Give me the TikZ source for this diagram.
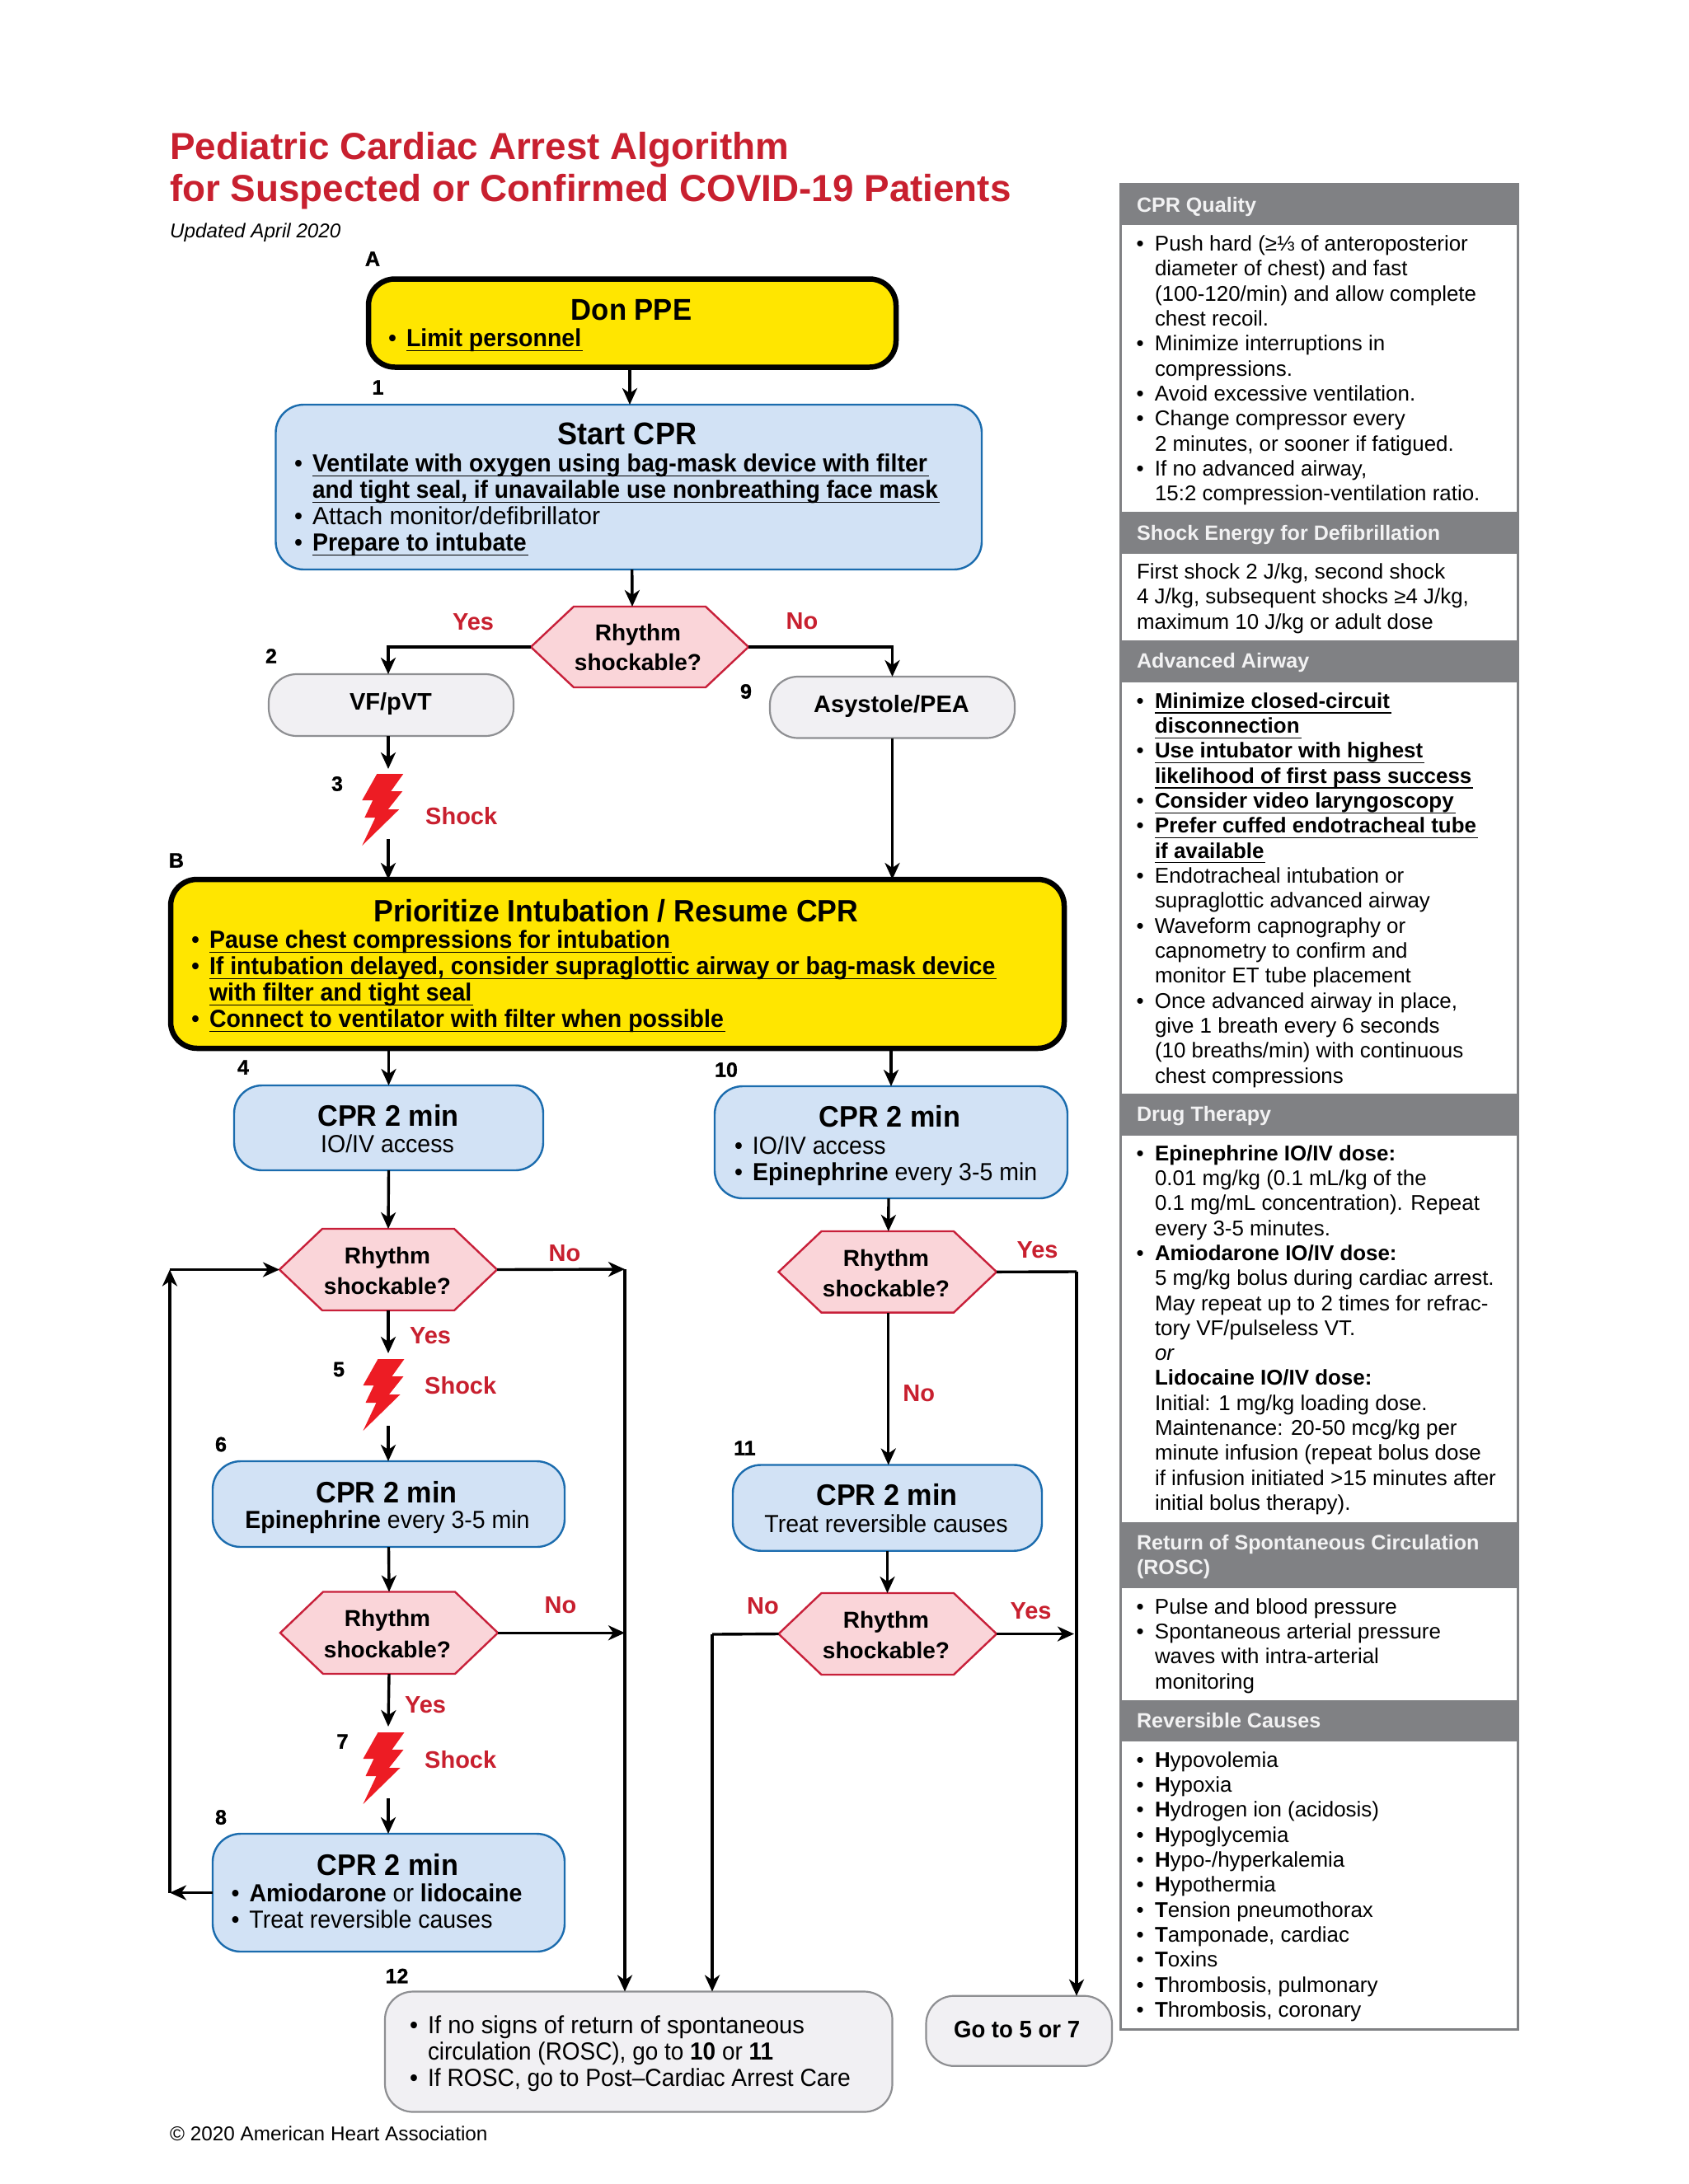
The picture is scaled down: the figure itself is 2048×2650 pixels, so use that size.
\documentclass[tikz,border=0pt]{standalone}
\usepackage{fontspec}
\usepackage{graphicx}
\setmainfont{Liberation Sans}
\newfontfamily\chartf{Liberation Sans}[FakeStretch=0.95]
\newfontface\numf{Liberation Sans Bold}[FakeBold=1.2]
\usetikzlibrary{arrows.meta,calc}
\definecolor{yel}{HTML}{FFE600}
\definecolor{bluefill}{HTML}{D2E2F5}
\definecolor{bluelin}{HTML}{1B6CAE}
\definecolor{greyfill}{HTML}{F1F0F3}
\definecolor{greylin}{HTML}{8E8F92}
\definecolor{pinkfill}{HTML}{FAD5D9}
\definecolor{pinklin}{HTML}{C8203A}
\definecolor{ahared}{HTML}{C8202F}
\definecolor{boltred}{HTML}{ED1C24}
\definecolor{hdrgrey}{HTML}{808184}
\definecolor{hdrtext}{HTML}{F2F2F3}
\newcommand\FS[2]{\fontsize{#1}{#2}\selectfont}
\newdimen\dimA \newdimen\dimB \newdimen\dimW \newdimen\dimH \newdimen\BulInd
\BulInd=22pt
\newsavebox\ulbox
\newcommand\UB[1]{\sbox\ulbox{\bfseries #1}\rlap{\rule[-6.2pt]{\dimexpr\wd\ulbox+2pt\relax}{1.3pt}}\usebox\ulbox}
\newcommand\Bu[1]{\hbox{\hbox to\BulInd{•\hss}#1}}
\newcommand\Ct[1]{\hbox{\kern\BulInd #1}}
\newcommand\Pl[1]{\hbox{#1}}
\newcommand\Block[1]{\vtop{\lineskiplimit=-100pt #1}}
\newcommand\At[3]{\pgfmathsetlength\dimA{#1-\BXL}\pgfmathsetlength\dimB{#2-\BYT}\nointerlineskip\vbox to 0pt{\kern\dimB\hbox to 0pt{\kern\dimA\smash{#3}\hss}\vss}\nointerlineskip}
\newcommand\Mid[1]{\hbox to 0pt{\hss #1\hss}}
% name, style, left, top, right, bottom, body
\newcommand\TB[7]{%
  \pgfmathsetmacro\BXL{#3}\pgfmathsetmacro\BYT{#4}%
  \pgfmathsetlength\dimW{#5-#3}\pgfmathsetlength\dimH{#6-#4}%
  \node[#2,inner sep=0pt,outer sep=0pt,anchor=north west,minimum width=\dimW,minimum height=\dimH] (#1) at (#3,#4)
   {\hbox to \dimW{\vbox to \dimH{#7\vss}\hss}};}
% name, left, top, right, bottom, text centre, baseline 1, baseline 2
\newcommand\Hex[8]{%
  \filldraw[hexline] (#2,{(#3+#5)/2}) -- ({#2+52},#3) -- ({#4-52},#3) -- (#4,{(#3+#5)/2}) -- ({#4-52},#5) -- ({#2+52},#5) -- cycle;
  \TB{#1}{}{#2}{#3}{#4}{#5}{\FS{28}{36}\bfseries\At{#6}{#7}{\Mid{Rhythm}}\At{#6}{#8}{\Mid{shockable?}}}}
\newcommand\Bolt[2]{%
  \fill[boltred,shift={(#1,#2)}] (18,0) -- (50,0) -- (35,21) -- (49,21) -- (31.5,43) -- (45,43) -- (0,87) -- (16,53) -- (3,53) -- (13,32) -- (0,32) -- cycle;}
\tikzset{
  hexline/.style={draw=pinklin,fill=pinkfill,line width=2.4pt,line join=miter},
  yelbox/.style={draw=black,fill=yel,line width=6.5pt,rounded corners=32pt},
  blubox/.style={draw=bluelin,fill=bluefill,line width=2.4pt,rounded corners=34pt},
  gribox/.style={draw=greylin,fill=greyfill,line width=2.2pt,rounded corners=34pt},
  arr/.style={draw=black,line width=3.4pt,line join=miter,-{Stealth[length=20pt,width=18pt,inset=6pt]}},
  lin/.style={draw=black,line width=3.4pt,line join=miter},
  numlab/.style={font=\numf\FS{25}{25},inner sep=0pt},
  redlab/.style={font=\FS{29}{29}\bfseries,text=ahared,inner sep=0pt},
  shocklab/.style={font=\FS{29}{29}\bfseries,text=ahared,inner sep=0pt,anchor=west},
  hdr/.style={fill=hdrgrey,text=hdrtext},
  panelframe/.style={draw=hdrgrey,fill=white,line width=3pt,inner sep=0pt,outer sep=0pt,anchor=north west},
}
\begin{document}
\begin{tikzpicture}[x=1pt,y=-1pt]
\path[use as bounding box,fill=white] (0,0) rectangle (2048,2650);

% Title
\node[anchor=base west,inner sep=0pt,text=ahared,font=\FS{45.8}{51}\bfseries] (title1) at (206,193) {Pediatric Cardiac Arrest Algorithm};
\node[anchor=base west,inner sep=0pt,text=ahared,font=\FS{45.8}{51}\bfseries] (title2) at (206,244) {for Suspected or Confirmed COVID-19 Patients};
\node[anchor=base west,inner sep=0pt,font=\FS{24.2}{28}\itshape] (updated) at (206,288) {Updated April 2020};
\node[anchor=base west,inner sep=0pt,font=\FS{24.3}{28}] (copyright) at (206,2597) {© 2020 American Heart Association};

% Flow boxes
\TB{don}{yelbox}{447}{338.5}{1087}{445.5}{\chartf%
  \At{766}{388}{\FS{36.5}{40}\bfseries\Mid{Don PPE}}
  \At{471}{420}{\FS{30}{32}\Block{\Bu{\UB{Limit personnel}}}}}
\TB{start}{blubox}{334.5}{491}{1191}{691}{\chartf%
  \At{761}{539.5}{\FS{38}{40}\bfseries\Mid{Start CPR}}
  \At{357}{572}{\FS{30}{32}\Block{
    \Bu{\UB{Ventilate with oxygen using bag-mask device with filter}}
    \Ct{\scalebox{0.982}[1]{\UB{and tight seal, if unavailable use nonbreathing face mask}}}
    \Bu{\scalebox{1.055}[1]{Attach monitor/defibrillator}}
    \Bu{\UB{Prepare to intubate}}}}}
\Hex{hexA}{644}{736}{908}{834}{774}{777}{813.5}
\TB{vf}{gribox}{326}{818}{623}{893}{\At{474}{861.5}{\FS{29}{32}\bfseries\Mid{VF/pVT}}}
\TB{asys}{gribox}{934}{821}{1231}{895.5}{\At{1081.5}{864}{\FS{29}{32}\bfseries\Mid{Asystole/PEA}}}
\Bolt{439.3}{939}
\coordinate (bolt3in) at (471,933);
\coordinate (bolt3out) at (471,1018);
\node[shocklab] (shock3) at (516,990) {Shock};
\TB{prior}{yelbox}{207}{1067}{1291}{1272}{\chartf%
  \At{747.5}{1118}{\FS{37.5}{40}\bfseries\Mid{Prioritize Intubation / Resume CPR}}
  \At{232}{1150}{\FS{30}{32}\Block{
    \Bu{\UB{Pause chest compressions for intubation}}
    \Bu{\UB{If intubation delayed, consider supraglottic airway or bag-mask device}}
    \Ct{\UB{with filter and tight seal}}
    \Bu{\UB{Connect to ventilator with filter when possible}}}}}
\TB{cprfour}{blubox}{284}{1317}{659}{1420}{\chartf%
  \At{471}{1366}{\FS{36}{40}\bfseries\Mid{CPR 2 min}}
  \At{470}{1398.6}{\FS{30}{32}\Mid{IO/IV access}}}
\TB{cprten}{blubox}{867}{1318}{1295}{1454}{\chartf%
  \At{1079.5}{1367}{\FS{36}{40}\bfseries\Mid{CPR 2 min}}
  \At{891}{1400}{\FS{30}{32}\Block{
    \Bu{IO/IV access}
    \Bu{\textbf{Epinephrine} every 3-5 min}}}}
\Hex{hexLa}{339}{1491}{603}{1590}{470}{1533}{1570}
\Hex{hexRa}{944.5}{1494}{1209}{1592.6}{1075}{1536}{1573}
\Bolt{440.5}{1649}
\coordinate (bolt5in) at (471,1642);
\coordinate (bolt5out) at (471,1730);
\node[shocklab] (shock5) at (515,1681) {Shock};
\TB{cprsix}{blubox}{258}{1773}{685}{1877}{\chartf%
  \At{469}{1823}{\FS{36}{40}\bfseries\Mid{CPR 2 min}}
  \At{470}{1854.5}{\FS{30}{32}\Mid{\textbf{Epinephrine} every 3-5 min}}}
\TB{cpreleven}{blubox}{889}{1777.5}{1264}{1881.7}{\chartf%
  \At{1076}{1826.6}{\FS{36}{40}\bfseries\Mid{CPR 2 min}}
  \At{1075}{1859}{\FS{30}{32}\Mid{Treat reversible causes}}}
\Hex{hexLb}{340}{1931.5}{604}{2031}{470}{1973.4}{2011}
\Hex{hexRb}{944.5}{1933}{1209}{2032}{1075}{1975}{2012}
\Bolt{440.5}{2102}
\coordinate (bolt7in) at (471,2095);
\coordinate (bolt7out) at (471,2182);
\node[shocklab] (shock7) at (515,2135) {Shock};
\TB{cpreight}{blubox}{258}{2225}{685}{2368}{\chartf%
  \At{470.5}{2275}{\FS{36}{40}\bfseries\Mid{CPR 2 min}}
  \At{280.5}{2307}{\FS{30}{32}\Block{
    \Bu{\textbf{Amiodarone} or \textbf{lidocaine}}
    \Bu{Treat reversible causes}}}}
\TB{final}{gribox}{467}{2416.5}{1082.5}{2562.5}{\chartf%
  \At{497}{2467}{\FS{30}{32}\Block{
    \Bu{\scalebox{1.023}[1]{If no signs of return of spontaneous}}
    \Ct{\scalebox{0.98}[1]{circulation (ROSC), go to \textbf{10} or \textbf{11}}}
    \Bu{\scalebox{0.99}[1]{If ROSC, go to Post–Cardiac Arrest Care}}}}}
\TB{goto}{gribox}{1123.5}{2421.7}{1349}{2506.8}{\chartf\At{1233.6}{2472}{\FS{29}{32}\bfseries\Mid{Go to 5 or 7}}}

% Connector helper points
\coordinate (busL) at (758,1540);
\coordinate (busM) at (864,1983);
\coordinate (busR) at (1306,1543);
\coordinate (loopB) at (206,2296.5);

% Connectors
\draw[arr] ([xshift=-3pt]don.south) -- ([xshift=-3pt]don.south |- start.north);
\draw[arr] ([xshift=4pt]start.south) -- ([xshift=-9pt]hexA.north);
\draw[arr] (hexA.west) -| ([xshift=-3.5pt]vf.north);
\draw[arr] (hexA.east) -| (asys.north);
\draw[arr] ([xshift=-3.5pt]vf.south) -- (bolt3in);
\draw[arr] (bolt3out) -- (bolt3out |- prior.north);
\draw[arr] (asys.south) -- (asys.south |- prior.north);
\draw[arr] (prior.south -| cprfour.north) -- (cprfour.north);
\draw[arr] (prior.south -| cprten.north) -- (cprten.north);
\draw[arr] (cprfour.south) -- (hexLa.north);
\draw[arr] ([xshift=-3pt]cprten.south) -- ([xshift=1pt]hexRa.north);
\draw[arr] (hexLa.south) -- (bolt5in);
\draw[arr] (bolt5out) -- (bolt5out |- cprsix.north);
\draw[arr] (cprsix.south) -- (hexLb.north);
\draw[arr] (hexLb.south) -- (bolt7in);
\draw[arr] (bolt7out) -- (bolt7out |- cpreight.north);
\draw[arr] ([xshift=1pt]hexRa.south) -- ([xshift=1pt]hexRa.south |- cpreleven.north);
\draw[arr] (cpreleven.south) -- (cpreleven.south |- hexRb.north);
\draw[arr] (hexLa.east) -- (busL);
\draw[arr] (busL) -- (busL |- final.north);
\draw[arr] (hexLb.east) -- (busL |- hexLb.east);
\draw[lin] (hexRb.west) -- (busM);
\draw[arr] (busM) -- (busM |- final.north);
\draw[lin] (hexRa.east) -- (busR);
\draw[arr] (busR) -- (busR |- goto.north);
\draw[arr] (hexRb.east) -- ([xshift=-3pt]busR |- hexRb.east);
\draw[arr] (cpreight.west) -- (loopB);
\draw[arr] (loopB) -- (loopB |- hexLa.west);
\draw[arr] (loopB |- hexLa.west) -- (hexLa.west);

% Labels
\node[redlab] (yesA) at (574,755) {Yes};
\node[redlab] (noA) at (973,754) {No};
\node[redlab] (noLa) at (685,1521) {No};
\node[redlab] (yesLa) at (522,1621) {Yes};
\node[redlab] (noLb) at (680,1948) {No};
\node[redlab] (yesLb) at (516,2069) {Yes};
\node[redlab] (yesRa) at (1258.5,1517) {Yes};
\node[redlab] (noRa) at (1114.7,1691) {No};
\node[redlab] (noRb) at (925.4,1949) {No};
\node[redlab] (yesRb) at (1250.5,1955) {Yes};
\node[numlab] (nA) at (452,314) {A};
\node[numlab] (n1) at (458.5,470) {1};
\node[numlab] (n2) at (329,796) {2};
\node[numlab] (n3) at (409,951) {3};
\node[numlab] (nB) at (214,1044) {B};
\node[numlab] (n4) at (295,1295) {4};
\node[numlab] (n5) at (411,1661.6) {5};
\node[numlab] (n6) at (268,1752.5) {6};
\node[numlab] (n7) at (415.5,2113) {7};
\node[numlab] (n8) at (268,2205) {8};
\node[numlab] (n9) at (905,839) {9};
\node[numlab] (n10) at (881,1298) {10};
\node[numlab] (n11) at (903.4,1757) {11};
\node[numlab] (n12) at (481.5,2397.5) {12};

% Side panel
\node[panelframe,minimum width=482.5pt,minimum height=2239pt] (panel) at (1359,223) {};
\TB{hone}{hdr}{1358}{222}{1842}{273}{\At{1379}{257}{\FS{25.1}{30}\bfseries\Pl{CPR Quality}}}
\TB{bone}{}{1360}{273}{1840}{621}{%
  \At{1378.5}{304.5}{\FS{25.9}{30.33}\BulInd=22.5pt\Block{
    \Bu{Push hard (≥⅓ of anteroposterior}
    \Ct{diameter of chest) and fast}
    \Ct{(100-120/min) and allow complete}
    \Ct{chest recoil.}
    \Bu{Minimize interruptions in}
    \Ct{compressions.}
    \Bu{Avoid excessive ventilation.}
    \Bu{Change compressor every}
    \Ct{2 minutes, or sooner if fatigued.}
    \Bu{If no advanced airway,}
    \Ct{15:2 compression-ventilation ratio.}}}}
\TB{htwo}{hdr}{1358}{621}{1842}{671.5}{\At{1379}{655}{\FS{25.1}{30}\bfseries\Pl{Shock Energy for Defibrillation}}}
\TB{btwo}{}{1360}{671.5}{1840}{777}{%
  \At{1379}{702.5}{\FS{25.9}{30.33}\Block{
    \Pl{First shock 2 J/kg, second shock}
    \Pl{4 J/kg, subsequent shocks ≥4 J/kg,}
    \Pl{maximum 10 J/kg or adult dose}}}}
\TB{hthree}{hdr}{1358}{777}{1842}{828}{\At{1379}{810}{\FS{25.1}{30}\bfseries\Pl{Advanced Airway}}}
\TB{bthree}{}{1360}{828}{1840}{1327}{%
  \At{1378.5}{859.3}{\FS{25.9}{30.33}\BulInd=22.5pt\Block{
    \Bu{\UB{Minimize closed-circuit}}
    \Ct{\UB{disconnection}}
    \Bu{\UB{Use intubator with highest}}
    \Ct{\UB{likelihood of first pass success}}
    \Bu{\UB{Consider video laryngoscopy}}
    \Bu{\UB{Prefer cuffed endotracheal tube}}
    \Ct{\UB{if available}}
    \Bu{Endotracheal intubation or}
    \Ct{supraglottic advanced airway}
    \Bu{Waveform capnography or}
    \Ct{capnometry to confirm and}
    \Ct{monitor ET tube placement}
    \Bu{Once advanced airway in place,}
    \Ct{give 1 breath every 6 seconds}
    \Ct{(10 breaths/min) with continuous}
    \Ct{chest compressions}}}}
\TB{hfour}{hdr}{1358}{1327}{1842}{1378}{\At{1379}{1360}{\FS{25.1}{30}\bfseries\Pl{Drug Therapy}}}
\TB{bfour}{}{1360}{1378}{1840}{1847}{%
  \At{1378.5}{1408}{\FS{25.9}{30.33}\BulInd=22.5pt\Block{
    \Bu{\textbf{Epinephrine IO/IV dose:}}
    \Ct{0.01 mg/kg (0.1 mL/kg of the}
    \Ct{0.1 mg/mL concentration). Repeat}
    \Ct{every 3-5 minutes.}
    \Bu{\textbf{Amiodarone IO/IV dose:}}
    \Ct{5 mg/kg bolus during cardiac arrest.}
    \Ct{May repeat up to 2 times for refrac-}
    \Ct{tory VF/pulseless VT.}
    \Ct{\textit{or}}
    \Ct{\textbf{Lidocaine IO/IV dose:}}
    \Ct{Initial: 1 mg/kg loading dose.}
    \Ct{Maintenance: 20-50 mcg/kg per}
    \Ct{minute infusion (repeat bolus dose}
    \Ct{if infusion initiated >15 minutes after}
    \Ct{initial bolus therapy).}}}}
\TB{hfive}{hdr}{1358}{1847}{1842}{1927}{\At{1379}{1880}{\FS{25.1}{30.33}\bfseries\Block{
    \Pl{Return of Spontaneous Circulation}
    \Pl{(ROSC)}}}}
\TB{bfive}{}{1360}{1927}{1840}{2063}{%
  \At{1378.5}{1958}{\FS{25.9}{30.33}\BulInd=22.5pt\Block{
    \Bu{Pulse and blood pressure}
    \Bu{Spontaneous arterial pressure}
    \Ct{waves with intra-arterial}
    \Ct{monitoring}}}}
\TB{hsix}{hdr}{1358}{2063}{1842}{2113}{\At{1379}{2096}{\FS{25.1}{30}\bfseries\Pl{Reversible Causes}}}
\TB{bsix}{}{1360}{2113}{1840}{2460}{%
  \At{1378.5}{2144}{\FS{25.9}{30.33}\BulInd=22.5pt\Block{
    \Bu{\textbf{H}ypovolemia}
    \Bu{\textbf{H}ypoxia}
    \Bu{\textbf{H}ydrogen ion (acidosis)}
    \Bu{\textbf{H}ypoglycemia}
    \Bu{\textbf{H}ypo-/hyperkalemia}
    \Bu{\textbf{H}ypothermia}
    \Bu{\textbf{T}ension pneumothorax}
    \Bu{\textbf{T}amponade, cardiac}
    \Bu{\textbf{T}oxins}
    \Bu{\textbf{T}hrombosis, pulmonary}
    \Bu{\textbf{T}hrombosis, coronary}}}}
\end{tikzpicture}
\end{document}
